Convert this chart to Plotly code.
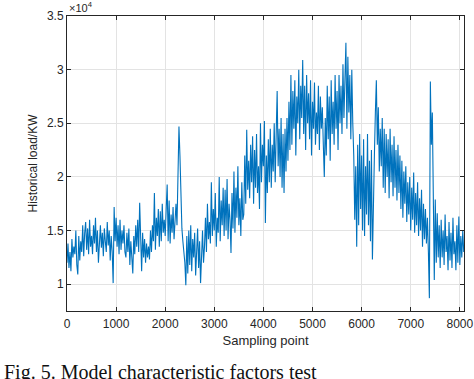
import plotly.graph_objects as go

# Sampling points (every 20 samples) and historical load values (x10^4 KW)
step = 20
load_e4 = [
    1.20, 1.38, 1.15, 1.30, 1.12, 1.42, 1.25, 1.35, 1.28, 1.50, 1.18, 1.09, 1.45, 1.22, 1.40, 1.30, 1.55, 1.26, 1.48, 1.58,
    1.32, 1.52, 1.28, 1.60, 1.35, 1.45, 1.28, 1.55, 1.38, 1.62, 1.30, 1.50, 1.20, 1.42, 1.55, 1.34, 1.48, 1.26, 1.52, 1.40,
    1.30, 1.58, 1.36, 1.50, 1.22, 1.45, 1.30, 1.01, 1.72, 1.40, 1.62, 1.35, 1.55, 1.28, 1.60, 1.32, 1.50, 1.38, 1.55, 1.30,
    1.25, 1.48, 1.30, 1.52, 1.18, 1.40, 1.22, 1.10, 1.45, 1.28, 1.55, 1.35, 1.60, 1.30, 1.76, 1.42, 1.12, 1.48, 1.25, 1.42,
    1.20, 1.38, 1.25, 1.35, 1.23, 1.50, 1.30, 1.55, 1.40, 1.85, 1.32, 1.62, 1.45, 1.70, 1.35, 1.68, 1.40, 1.75, 1.48, 1.60,
    1.45, 1.70, 1.93, 1.40, 1.78, 1.38, 1.65, 1.48, 1.72, 1.42, 1.60, 1.75, 1.55, 2.05, 2.47, 2.20, 1.70, 1.52, 1.40, 1.30,
    1.20, 0.99, 1.45, 1.10, 1.50, 1.18, 1.55, 1.12, 1.42, 1.25, 1.48, 1.08, 1.35, 1.52, 1.15, 1.40, 1.01, 1.30, 1.50, 1.20,
    1.35, 1.62, 1.30, 1.75, 1.42, 1.58, 1.38, 1.95, 1.45, 1.70, 1.50, 1.85, 1.35, 1.62, 1.48, 2.00, 1.40, 1.78, 1.55, 1.90,
    1.45, 1.88, 1.50, 1.98, 1.42, 1.75, 1.60, 1.29, 1.85, 1.52, 2.05, 1.48, 1.90, 1.62, 2.10, 1.55, 1.80, 1.45, 1.95, 1.60,
    1.65, 2.20, 1.75, 2.44, 1.88, 2.15, 1.80, 2.30, 1.95, 2.38, 1.75, 2.25, 1.90, 2.40, 1.85, 2.10, 1.70, 2.50, 1.95, 2.30,
    2.10, 2.52, 1.57, 2.20, 1.85, 2.35, 1.95, 2.45, 1.90, 2.30, 2.05, 2.50, 1.95, 2.40, 2.80, 2.10, 2.45, 2.00, 2.55, 1.90,
    2.40, 1.85, 2.45, 2.05, 2.55, 2.15, 2.70, 2.25, 2.95, 2.30, 2.80, 2.45, 2.90, 2.20, 2.75, 2.50, 3.00, 2.35, 2.85, 2.55,
    3.09, 2.40, 2.85, 2.25, 2.95, 2.50, 2.78, 2.35, 2.90, 2.20, 2.70, 2.45, 2.88, 2.30, 2.60, 2.40, 2.85, 2.25, 2.75, 2.45,
    2.65, 2.30, 2.00, 2.55, 2.20, 2.85, 2.35, 2.75, 2.15, 2.90, 2.40, 2.70, 2.30, 2.95, 2.45, 2.80, 2.25, 2.95, 2.50, 2.85,
    2.40, 3.05, 2.55, 2.90, 3.25, 2.45, 3.12, 2.60, 2.95, 2.35, 3.00, 2.50, 2.20, 1.60, 2.10, 1.35, 2.30, 1.55, 2.40, 1.70,
    2.20, 1.50, 2.35, 1.45, 2.10, 1.65, 2.40, 1.55, 2.15, 1.40, 2.25, 1.23, 1.90, 2.20, 2.60, 2.90, 2.30, 2.65, 2.05, 2.45,
    2.10, 2.55, 1.90, 2.45, 1.85, 2.40, 2.00, 2.35, 1.80, 2.45, 1.95, 2.30, 1.82, 2.38, 1.90, 2.25, 1.78, 2.30, 1.85, 2.20,
    1.70, 2.15, 1.62, 2.05, 1.75, 2.10, 1.58, 1.95, 1.65, 2.00, 1.50, 1.90, 1.60, 2.04, 1.48, 1.85, 1.55, 1.95, 1.45, 1.80,
    1.50, 1.88, 1.35, 1.75, 1.42, 1.70, 1.38, 1.62, 1.30, 0.87, 2.89, 2.30, 2.60, 1.80, 1.04, 1.79, 1.20, 1.66, 1.25, 1.55,
    1.15, 1.60, 1.25, 1.50, 1.18, 1.65, 1.30, 1.45, 1.13, 1.58, 1.22, 1.48, 1.15, 1.62, 1.28, 1.40, 1.13, 1.55, 1.20, 1.63,
    1.18, 1.45, 1.25, 1.50, 1.30,
]
sampling_point = [i * step for i in range(len(load_e4))]

x_ticks = [0, 1000, 2000, 3000, 4000, 5000, 6000, 7000, 8000]
y_ticks = [1, 1.5, 2, 2.5, 3, 3.5]
y_tick_text = ["1", "1.5", "2", "2.5", "3", "3.5"]

fig = go.Figure()
fig.add_trace(go.Scatter(
    x=sampling_point, y=load_e4, mode="lines",
    line=dict(color="#0072BD", width=1.1),
    showlegend=False,
))

axis_common = dict(
    showline=True, linecolor="#262626", linewidth=1, mirror="ticks",
    ticks="inside", ticklen=4, tickcolor="#262626",
    showgrid=True, gridcolor="#e3e3e3", gridwidth=1,
    zeroline=False, automargin=False,
    tickfont=dict(family="Liberation Sans, Arial", size=12, color="#262626"),
)

fig.update_layout(
    width=474, height=379,
    margin=dict(l=67, r=10, t=16, b=68),
    paper_bgcolor="white", plot_bgcolor="white",
    xaxis=dict(range=[0, 8085], tickvals=x_ticks, ticklabelstandoff=2, **axis_common,
               title=dict(text="Sampling point", standoff=5,
                          font=dict(family="Liberation Sans, Arial", size=13, color="#262626"))),
    yaxis=dict(range=[0.75, 3.5], tickvals=y_ticks, ticktext=y_tick_text, **axis_common,
               title=dict(text="Historical load/KW", standoff=6,
                          font=dict(family="Liberation Sans, Arial", size=12, color="#262626"))),
    annotations=[
        dict(text="×10<sup>4</sup>", xref="paper", yref="paper", x=0, y=1,
             xanchor="left", yanchor="bottom", showarrow=False,
             font=dict(family="Liberation Sans, Arial", size=11, color="#262626")),
        dict(text="Fig. 5. Model characteristic factors test", xref="paper", yref="paper",
             x=-0.164, y=-0.21, xanchor="left", yanchor="middle", showarrow=False,
             font=dict(family="Liberation Serif, Times New Roman", size=20, color="#111111")),
    ],
)

fig.write_html("out.html", config={"displayModeBar": False},
               post_script="document.body.style.margin='0';document.body.style.overflow='hidden';")
